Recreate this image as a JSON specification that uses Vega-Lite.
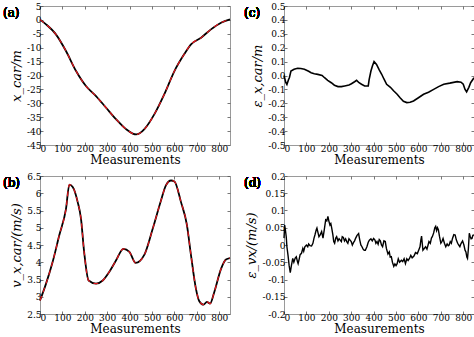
{
  "$schema": "https://vega.github.io/schema/vega-lite/v6.json",
  "padding": {"left": 2, "top": 1, "right": 0, "bottom": 0},
  "background": "white",
  "datasets": {
    "pos": [
      {"m": 0, "ref": 0.1, "est": 0.1}, {"m": 27, "ref": -1.6, "est": -1.6}, {"m": 71, "ref": -5.2, "est": -5.2},
      {"m": 116, "ref": -11.2, "est": -11.2}, {"m": 161, "ref": -18.4, "est": -18.4}, {"m": 205, "ref": -23.8, "est": -23.8},
      {"m": 250, "ref": -27.4, "est": -27.4}, {"m": 295, "ref": -31.6, "est": -31.6}, {"m": 339, "ref": -35.7, "est": -35.7},
      {"m": 384, "ref": -39.3, "est": -39.3}, {"m": 414, "ref": -40.9, "est": -40.9}, {"m": 429, "ref": -41.2, "est": -41.2},
      {"m": 445, "ref": -40.8, "est": -40.8}, {"m": 466, "ref": -39.3, "est": -39.3}, {"m": 510, "ref": -34.0, "est": -34.0},
      {"m": 555, "ref": -26.7, "est": -26.7}, {"m": 600, "ref": -18.4, "est": -18.4}, {"m": 644, "ref": -12.3, "est": -12.3},
      {"m": 674, "ref": -8.8, "est": -8.8}, {"m": 719, "ref": -6.4, "est": -6.4}, {"m": 763, "ref": -3.4, "est": -3.4},
      {"m": 808, "ref": -1.0, "est": -1.0}, {"m": 848, "ref": 0.2, "est": 0.2}
    ],
    "vel": [
      {"m": 0, "ref": 2.89, "est": 2.89}, {"m": 27, "ref": 3.38, "est": 3.38}, {"m": 56, "ref": 4.0, "est": 4.0},
      {"m": 86, "ref": 4.78, "est": 4.78}, {"m": 116, "ref": 5.55, "est": 5.55}, {"m": 131, "ref": 6.25, "est": 6.25},
      {"m": 146, "ref": 6.18, "est": 6.18}, {"m": 168, "ref": 5.75, "est": 5.75}, {"m": 183, "ref": 5.26, "est": 5.26},
      {"m": 197, "ref": 4.3, "est": 4.3}, {"m": 217, "ref": 3.47, "est": 3.47}, {"m": 250, "ref": 3.38, "est": 3.38},
      {"m": 280, "ref": 3.47, "est": 3.47}, {"m": 309, "ref": 3.72, "est": 3.72}, {"m": 339, "ref": 4.05, "est": 4.05},
      {"m": 372, "ref": 4.39, "est": 4.39}, {"m": 399, "ref": 4.3, "est": 4.3}, {"m": 427, "ref": 3.98, "est": 3.98},
      {"m": 466, "ref": 4.22, "est": 4.22}, {"m": 503, "ref": 4.97, "est": 4.97}, {"m": 540, "ref": 5.79, "est": 5.79},
      {"m": 562, "ref": 6.23, "est": 6.23}, {"m": 585, "ref": 6.37, "est": 6.37}, {"m": 600, "ref": 6.34, "est": 6.34},
      {"m": 629, "ref": 5.75, "est": 5.75}, {"m": 656, "ref": 5.07, "est": 5.07}, {"m": 674, "ref": 4.2, "est": 4.2},
      {"m": 696, "ref": 3.23, "est": 3.23}, {"m": 711, "ref": 2.87, "est": 2.87}, {"m": 730, "ref": 2.77, "est": 2.77},
      {"m": 745, "ref": 2.85, "est": 2.85}, {"m": 759, "ref": 2.8, "est": 2.8}, {"m": 778, "ref": 3.14, "est": 3.14},
      {"m": 808, "ref": 3.81, "est": 3.81}, {"m": 830, "ref": 4.08, "est": 4.08}, {"m": 848, "ref": 4.12, "est": 4.12}
    ],
    "epos": [
      {"m": 0, "e": 0.0}, {"m": 8, "e": -0.05}, {"m": 13, "e": -0.065}, {"m": 20, "e": -0.03}, {"m": 24, "e": -0.016},
      {"m": 31, "e": 0.032}, {"m": 45, "e": 0.045}, {"m": 61, "e": 0.052}, {"m": 75, "e": 0.05}, {"m": 91, "e": 0.045},
      {"m": 110, "e": 0.03}, {"m": 121, "e": 0.02}, {"m": 135, "e": 0.012}, {"m": 151, "e": 0.008}, {"m": 170, "e": 0.0},
      {"m": 181, "e": -0.016}, {"m": 195, "e": -0.035}, {"m": 211, "e": -0.052}, {"m": 225, "e": -0.07}, {"m": 241, "e": -0.08},
      {"m": 256, "e": -0.08}, {"m": 271, "e": -0.075}, {"m": 290, "e": -0.068}, {"m": 301, "e": -0.059}, {"m": 315, "e": -0.045},
      {"m": 324, "e": -0.035}, {"m": 335, "e": -0.052}, {"m": 346, "e": -0.063}, {"m": 360, "e": -0.075}, {"m": 376, "e": -0.075},
      {"m": 380, "e": -0.03}, {"m": 388, "e": 0.032}, {"m": 395, "e": 0.07}, {"m": 402, "e": 0.1}, {"m": 413, "e": 0.08},
      {"m": 425, "e": 0.04}, {"m": 436, "e": 0.009}, {"m": 446, "e": -0.025}, {"m": 458, "e": -0.063}, {"m": 475, "e": -0.085},
      {"m": 489, "e": -0.11}, {"m": 505, "e": -0.135}, {"m": 518, "e": -0.16}, {"m": 533, "e": -0.185}, {"m": 548, "e": -0.195},
      {"m": 563, "e": -0.193}, {"m": 578, "e": -0.183}, {"m": 600, "e": -0.16}, {"m": 623, "e": -0.135}, {"m": 645, "e": -0.12},
      {"m": 668, "e": -0.1}, {"m": 690, "e": -0.08}, {"m": 713, "e": -0.063}, {"m": 740, "e": -0.055}, {"m": 773, "e": -0.044},
      {"m": 790, "e": -0.048}, {"m": 800, "e": -0.063}, {"m": 808, "e": -0.1}, {"m": 815, "e": -0.118}, {"m": 825, "e": -0.085},
      {"m": 833, "e": -0.052}, {"m": 848, "e": -0.016}
    ],
    "evel": [
      {"m": 0, "e": 0.02}, {"m": 3, "e": 0.058}, {"m": 6, "e": 0.045}, {"m": 10, "e": 0.024}, {"m": 13, "e": -0.005},
      {"m": 18, "e": -0.03}, {"m": 23, "e": -0.06}, {"m": 28, "e": -0.08}, {"m": 33, "e": -0.06}, {"m": 39, "e": -0.039},
      {"m": 44, "e": -0.05}, {"m": 50, "e": -0.038}, {"m": 55, "e": -0.034}, {"m": 60, "e": -0.048}, {"m": 63, "e": -0.054},
      {"m": 68, "e": -0.04}, {"m": 72, "e": -0.028}, {"m": 78, "e": -0.024}, {"m": 84, "e": -0.01}, {"m": 88, "e": -0.018},
      {"m": 93, "e": -0.005}, {"m": 100, "e": 0.0}, {"m": 106, "e": -0.005}, {"m": 110, "e": 0.003}, {"m": 116, "e": -0.002},
      {"m": 123, "e": -0.003}, {"m": 129, "e": 0.005}, {"m": 134, "e": 0.02}, {"m": 138, "e": 0.029}, {"m": 144, "e": 0.044},
      {"m": 147, "e": 0.049}, {"m": 152, "e": 0.035}, {"m": 156, "e": 0.024}, {"m": 162, "e": 0.03}, {"m": 168, "e": 0.039},
      {"m": 174, "e": 0.02}, {"m": 180, "e": 0.045}, {"m": 186, "e": 0.073}, {"m": 191, "e": 0.07}, {"m": 196, "e": 0.083},
      {"m": 200, "e": 0.07}, {"m": 205, "e": 0.058}, {"m": 209, "e": 0.062}, {"m": 213, "e": 0.049}, {"m": 218, "e": 0.03},
      {"m": 222, "e": 0.01}, {"m": 226, "e": 0.005}, {"m": 231, "e": 0.02}, {"m": 235, "e": 0.024}, {"m": 241, "e": 0.012},
      {"m": 246, "e": 0.018}, {"m": 250, "e": 0.015}, {"m": 256, "e": 0.01}, {"m": 260, "e": 0.024}, {"m": 265, "e": 0.022},
      {"m": 270, "e": 0.012}, {"m": 275, "e": 0.018}, {"m": 280, "e": 0.01}, {"m": 285, "e": 0.005}, {"m": 290, "e": 0.018},
      {"m": 295, "e": 0.014}, {"m": 300, "e": 0.01}, {"m": 305, "e": 0.0}, {"m": 310, "e": 0.007}, {"m": 315, "e": 0.012},
      {"m": 320, "e": 0.02}, {"m": 326, "e": 0.028}, {"m": 333, "e": 0.033}, {"m": 338, "e": 0.015}, {"m": 343, "e": 0.0},
      {"m": 348, "e": -0.005}, {"m": 353, "e": -0.012}, {"m": 358, "e": -0.015}, {"m": 363, "e": -0.015}, {"m": 370, "e": -0.005},
      {"m": 376, "e": 0.008}, {"m": 381, "e": 0.014}, {"m": 388, "e": 0.018}, {"m": 394, "e": 0.012}, {"m": 400, "e": 0.019},
      {"m": 406, "e": 0.014}, {"m": 410, "e": 0.005}, {"m": 415, "e": 0.01}, {"m": 420, "e": 0.002}, {"m": 425, "e": 0.016},
      {"m": 430, "e": 0.012}, {"m": 435, "e": 0.0}, {"m": 440, "e": -0.005}, {"m": 446, "e": 0.012}, {"m": 452, "e": 0.01},
      {"m": 457, "e": -0.01}, {"m": 464, "e": -0.026}, {"m": 470, "e": -0.02}, {"m": 474, "e": -0.035}, {"m": 479, "e": -0.034},
      {"m": 484, "e": -0.05}, {"m": 490, "e": -0.062}, {"m": 495, "e": -0.055}, {"m": 500, "e": -0.06}, {"m": 505, "e": -0.054},
      {"m": 510, "e": -0.04}, {"m": 516, "e": -0.05}, {"m": 524, "e": -0.044}, {"m": 530, "e": -0.048}, {"m": 536, "e": -0.04},
      {"m": 542, "e": -0.054}, {"m": 548, "e": -0.04}, {"m": 554, "e": -0.045}, {"m": 560, "e": -0.039}, {"m": 566, "e": -0.03},
      {"m": 572, "e": -0.037}, {"m": 580, "e": -0.032}, {"m": 587, "e": -0.022}, {"m": 595, "e": -0.025}, {"m": 601, "e": -0.015},
      {"m": 607, "e": -0.005}, {"m": 611, "e": 0.015}, {"m": 614, "e": 0.026}, {"m": 617, "e": 0.005}, {"m": 620, "e": -0.015},
      {"m": 626, "e": -0.01}, {"m": 632, "e": -0.005}, {"m": 638, "e": -0.012}, {"m": 643, "e": 0.0}, {"m": 647, "e": 0.01},
      {"m": 653, "e": 0.005}, {"m": 658, "e": 0.02}, {"m": 662, "e": 0.024}, {"m": 668, "e": 0.035}, {"m": 673, "e": 0.05},
      {"m": 677, "e": 0.054}, {"m": 681, "e": 0.042}, {"m": 685, "e": 0.05}, {"m": 689, "e": 0.044}, {"m": 694, "e": 0.025},
      {"m": 700, "e": 0.005}, {"m": 705, "e": 0.01}, {"m": 710, "e": 0.019}, {"m": 716, "e": 0.005}, {"m": 722, "e": -0.005},
      {"m": 728, "e": 0.003}, {"m": 733, "e": -0.002}, {"m": 737, "e": 0.0}, {"m": 742, "e": 0.01}, {"m": 747, "e": 0.005},
      {"m": 752, "e": 0.019}, {"m": 758, "e": 0.03}, {"m": 764, "e": 0.029}, {"m": 769, "e": 0.015}, {"m": 775, "e": 0.005},
      {"m": 780, "e": 0.0}, {"m": 785, "e": -0.005}, {"m": 790, "e": 0.004}, {"m": 797, "e": 0.012}, {"m": 803, "e": 0.0},
      {"m": 808, "e": -0.015}, {"m": 812, "e": -0.02}, {"m": 816, "e": -0.035}, {"m": 819, "e": -0.039}, {"m": 823, "e": -0.01},
      {"m": 827, "e": 0.034}, {"m": 831, "e": 0.025}, {"m": 835, "e": 0.018}, {"m": 839, "e": 0.019}, {"m": 843, "e": 0.028},
      {"m": 848, "e": 0.029}
    ]
  },
  "columns": 2,
  "bounds": "flush",
  "spacing": {"row": 31, "column": 54},
  "concat": [
    {
      "data": {"name": "pos"},
      "width": 190, "height": 139,
      "layer": [
        {"mark": {"type": "line", "color": "#000000", "strokeWidth": 1.8, "interpolate": "monotone"},
         "encoding": {
           "x": {"field": "m", "type": "quantitative", "scale": {"domain": [0, 848], "nice": false, "zero": false},
                 "axis": {"values": [0, 100, 200, 300, 400, 500, 600, 700, 800], "title": "Measurements"}},
           "y": {"field": "ref", "type": "quantitative", "scale": {"domain": [-45, 5], "nice": false},
                 "axis": {"values": [-45, -40, -35, -30, -25, -20, -15, -10, -5, 0, 5], "title": "x_car/m", "labelExpr": "replace(datum.value + '', '−', '-')"}}
         }},
        {"mark": {"type": "line", "color": "#e3151b", "strokeWidth": 1.2, "strokeDash": [5, 4], "interpolate": "monotone"},
         "encoding": {
           "x": {"field": "m", "type": "quantitative", "scale": {"domain": [0, 848], "nice": false, "zero": false},
                 "axis": {"orient": "top", "labels": false, "title": null, "values": [0, 100, 200, 300, 400, 500, 600, 700, 800]}},
           "y": {"field": "est", "type": "quantitative", "scale": {"domain": [-45, 5], "nice": false},
                 "axis": {"orient": "right", "labels": false, "title": null, "values": [-45, -40, -35, -30, -25, -20, -15, -10, -5, 0, 5]}}
         }},
        {"mark": {"type": "text", "text": "(a)", "align": "left", "baseline": "top", "dx": -37, "dy": 2, "fontSize": 12, "fontWeight": "normal"},
         "encoding": {"x": {"datum": 0, "type": "quantitative", "axis": null}, "y": {"datum": 5, "type": "quantitative", "axis": null}}}
      ],
      "resolve": {"axis": {"x": "independent", "y": "independent"}}
    },
    {
      "data": {"name": "epos"},
      "width": 190, "height": 139,
      "layer": [
        {"mark": {"type": "line", "color": "#000000", "strokeWidth": 1.6},
         "encoding": {
           "x": {"field": "m", "type": "quantitative", "scale": {"domain": [0, 848], "nice": false, "zero": false},
                 "axis": {"values": [0, 100, 200, 300, 400, 500, 600, 700, 800], "title": "Measurements"}},
           "y": {"field": "e", "type": "quantitative", "scale": {"domain": [-0.5, 0.5], "nice": false},
                 "axis": {"values": [-0.5, -0.4, -0.3, -0.2, -0.1, 0, 0.1, 0.2, 0.3, 0.4, 0.5], "title": "ε_x,car/m", "labelExpr": "replace(format(datum.value, '.1f'), '−', '-')"}}
         }},
        {"mark": {"type": "line", "color": "#000000", "strokeWidth": 1.6, "strokeOpacity": 0},
         "encoding": {
           "x": {"field": "m", "type": "quantitative", "scale": {"domain": [0, 848], "nice": false, "zero": false},
                 "axis": {"orient": "top", "labels": false, "title": null, "values": [0, 100, 200, 300, 400, 500, 600, 700, 800]}},
           "y": {"field": "e", "type": "quantitative", "scale": {"domain": [-0.5, 0.5], "nice": false},
                 "axis": {"orient": "right", "labels": false, "title": null, "values": [-0.5, -0.4, -0.3, -0.2, -0.1, 0, 0.1, 0.2, 0.3, 0.4, 0.5]}}
         }},
        {"mark": {"type": "text", "text": "(c)", "align": "left", "baseline": "top", "dx": -40, "dy": 2, "fontSize": 12, "fontWeight": "normal"},
         "encoding": {"x": {"datum": 0, "type": "quantitative", "axis": null}, "y": {"datum": 0.5, "type": "quantitative", "axis": null}}}
      ],
      "resolve": {"axis": {"x": "independent", "y": "independent"}}
    },
    {
      "data": {"name": "vel"},
      "width": 190, "height": 138,
      "layer": [
        {"mark": {"type": "line", "color": "#000000", "strokeWidth": 1.8, "interpolate": "monotone"},
         "encoding": {
           "x": {"field": "m", "type": "quantitative", "scale": {"domain": [0, 848], "nice": false, "zero": false},
                 "axis": {"values": [0, 100, 200, 300, 400, 500, 600, 700, 800], "title": "Measurements"}},
           "y": {"field": "ref", "type": "quantitative", "scale": {"domain": [2.5, 6.5], "nice": false, "zero": false},
                 "axis": {"values": [2.5, 3, 3.5, 4, 4.5, 5, 5.5, 6, 6.5], "title": "v_x,car/(m/s)", "labelExpr": "datum.value + ''"}}
         }},
        {"mark": {"type": "line", "color": "#e3151b", "strokeWidth": 1.2, "strokeDash": [5, 4], "interpolate": "monotone"},
         "encoding": {
           "x": {"field": "m", "type": "quantitative", "scale": {"domain": [0, 848], "nice": false, "zero": false},
                 "axis": {"orient": "top", "labels": false, "title": null, "values": [0, 100, 200, 300, 400, 500, 600, 700, 800]}},
           "y": {"field": "est", "type": "quantitative", "scale": {"domain": [2.5, 6.5], "nice": false, "zero": false},
                 "axis": {"orient": "right", "labels": false, "title": null, "values": [2.5, 3, 3.5, 4, 4.5, 5, 5.5, 6, 6.5]}}
         }},
        {"mark": {"type": "text", "text": "(b)", "align": "left", "baseline": "top", "dx": -37, "dy": 2, "fontSize": 12, "fontWeight": "normal"},
         "encoding": {"x": {"datum": 0, "type": "quantitative", "axis": null}, "y": {"datum": 6.5, "type": "quantitative", "axis": null}}}
      ],
      "resolve": {"axis": {"x": "independent", "y": "independent"}}
    },
    {
      "data": {"name": "evel"},
      "width": 190, "height": 138,
      "layer": [
        {"mark": {"type": "line", "color": "#000000", "strokeWidth": 1.4},
         "encoding": {
           "x": {"field": "m", "type": "quantitative", "scale": {"domain": [0, 848], "nice": false, "zero": false},
                 "axis": {"values": [0, 100, 200, 300, 400, 500, 600, 700, 800], "title": "Measurements"}},
           "y": {"field": "e", "type": "quantitative", "scale": {"domain": [-0.2, 0.2], "nice": false},
                 "axis": {"values": [-0.2, -0.15, -0.1, -0.05, 0, 0.05, 0.1, 0.15, 0.2], "title": "ε_vx/(m/s)", "labelExpr": "replace(datum.value + '', '−', '-')"}}
         }},
        {"mark": {"type": "line", "color": "#000000", "strokeWidth": 1.4, "strokeOpacity": 0},
         "encoding": {
           "x": {"field": "m", "type": "quantitative", "scale": {"domain": [0, 848], "nice": false, "zero": false},
                 "axis": {"orient": "top", "labels": false, "title": null, "values": [0, 100, 200, 300, 400, 500, 600, 700, 800]}},
           "y": {"field": "e", "type": "quantitative", "scale": {"domain": [-0.2, 0.2], "nice": false},
                 "axis": {"orient": "right", "labels": false, "title": null, "values": [-0.2, -0.15, -0.1, -0.05, 0, 0.05, 0.1, 0.15, 0.2]}}
         }},
        {"mark": {"type": "text", "text": "(d)", "align": "left", "baseline": "top", "dx": -40, "dy": 2, "fontSize": 12, "fontWeight": "normal"},
         "encoding": {"x": {"datum": 0, "type": "quantitative", "axis": null}, "y": {"datum": 0.2, "type": "quantitative", "axis": null}}}
      ],
      "resolve": {"axis": {"x": "independent", "y": "independent"}}
    }
  ],
  "config": {
    "font": "DejaVu Serif",
    "view": {"stroke": "#9a9a9a", "strokeWidth": 1},
    "text": {"font": "DejaVu Serif", "color": "#000000", "fontWeight": "normal"},
    "axis": {
      "domain": false, "grid": false, "tickSize": -3, "tickColor": "#555555", "tickWidth": 0.8,
      "labelFont": "DejaVu Serif", "labelFontSize": 9, "labelColor": "#000000", "labelPadding": 2,
      "titleFont": "DejaVu Serif", "titleFontWeight": "normal", "titleColor": "#000000"
    },
    "axisX": {"titleFontSize": 12, "titlePadding": 1},
    "axisY": {"titleFontSize": 13, "titleFontStyle": "italic", "titlePadding": 3}
  }
}
